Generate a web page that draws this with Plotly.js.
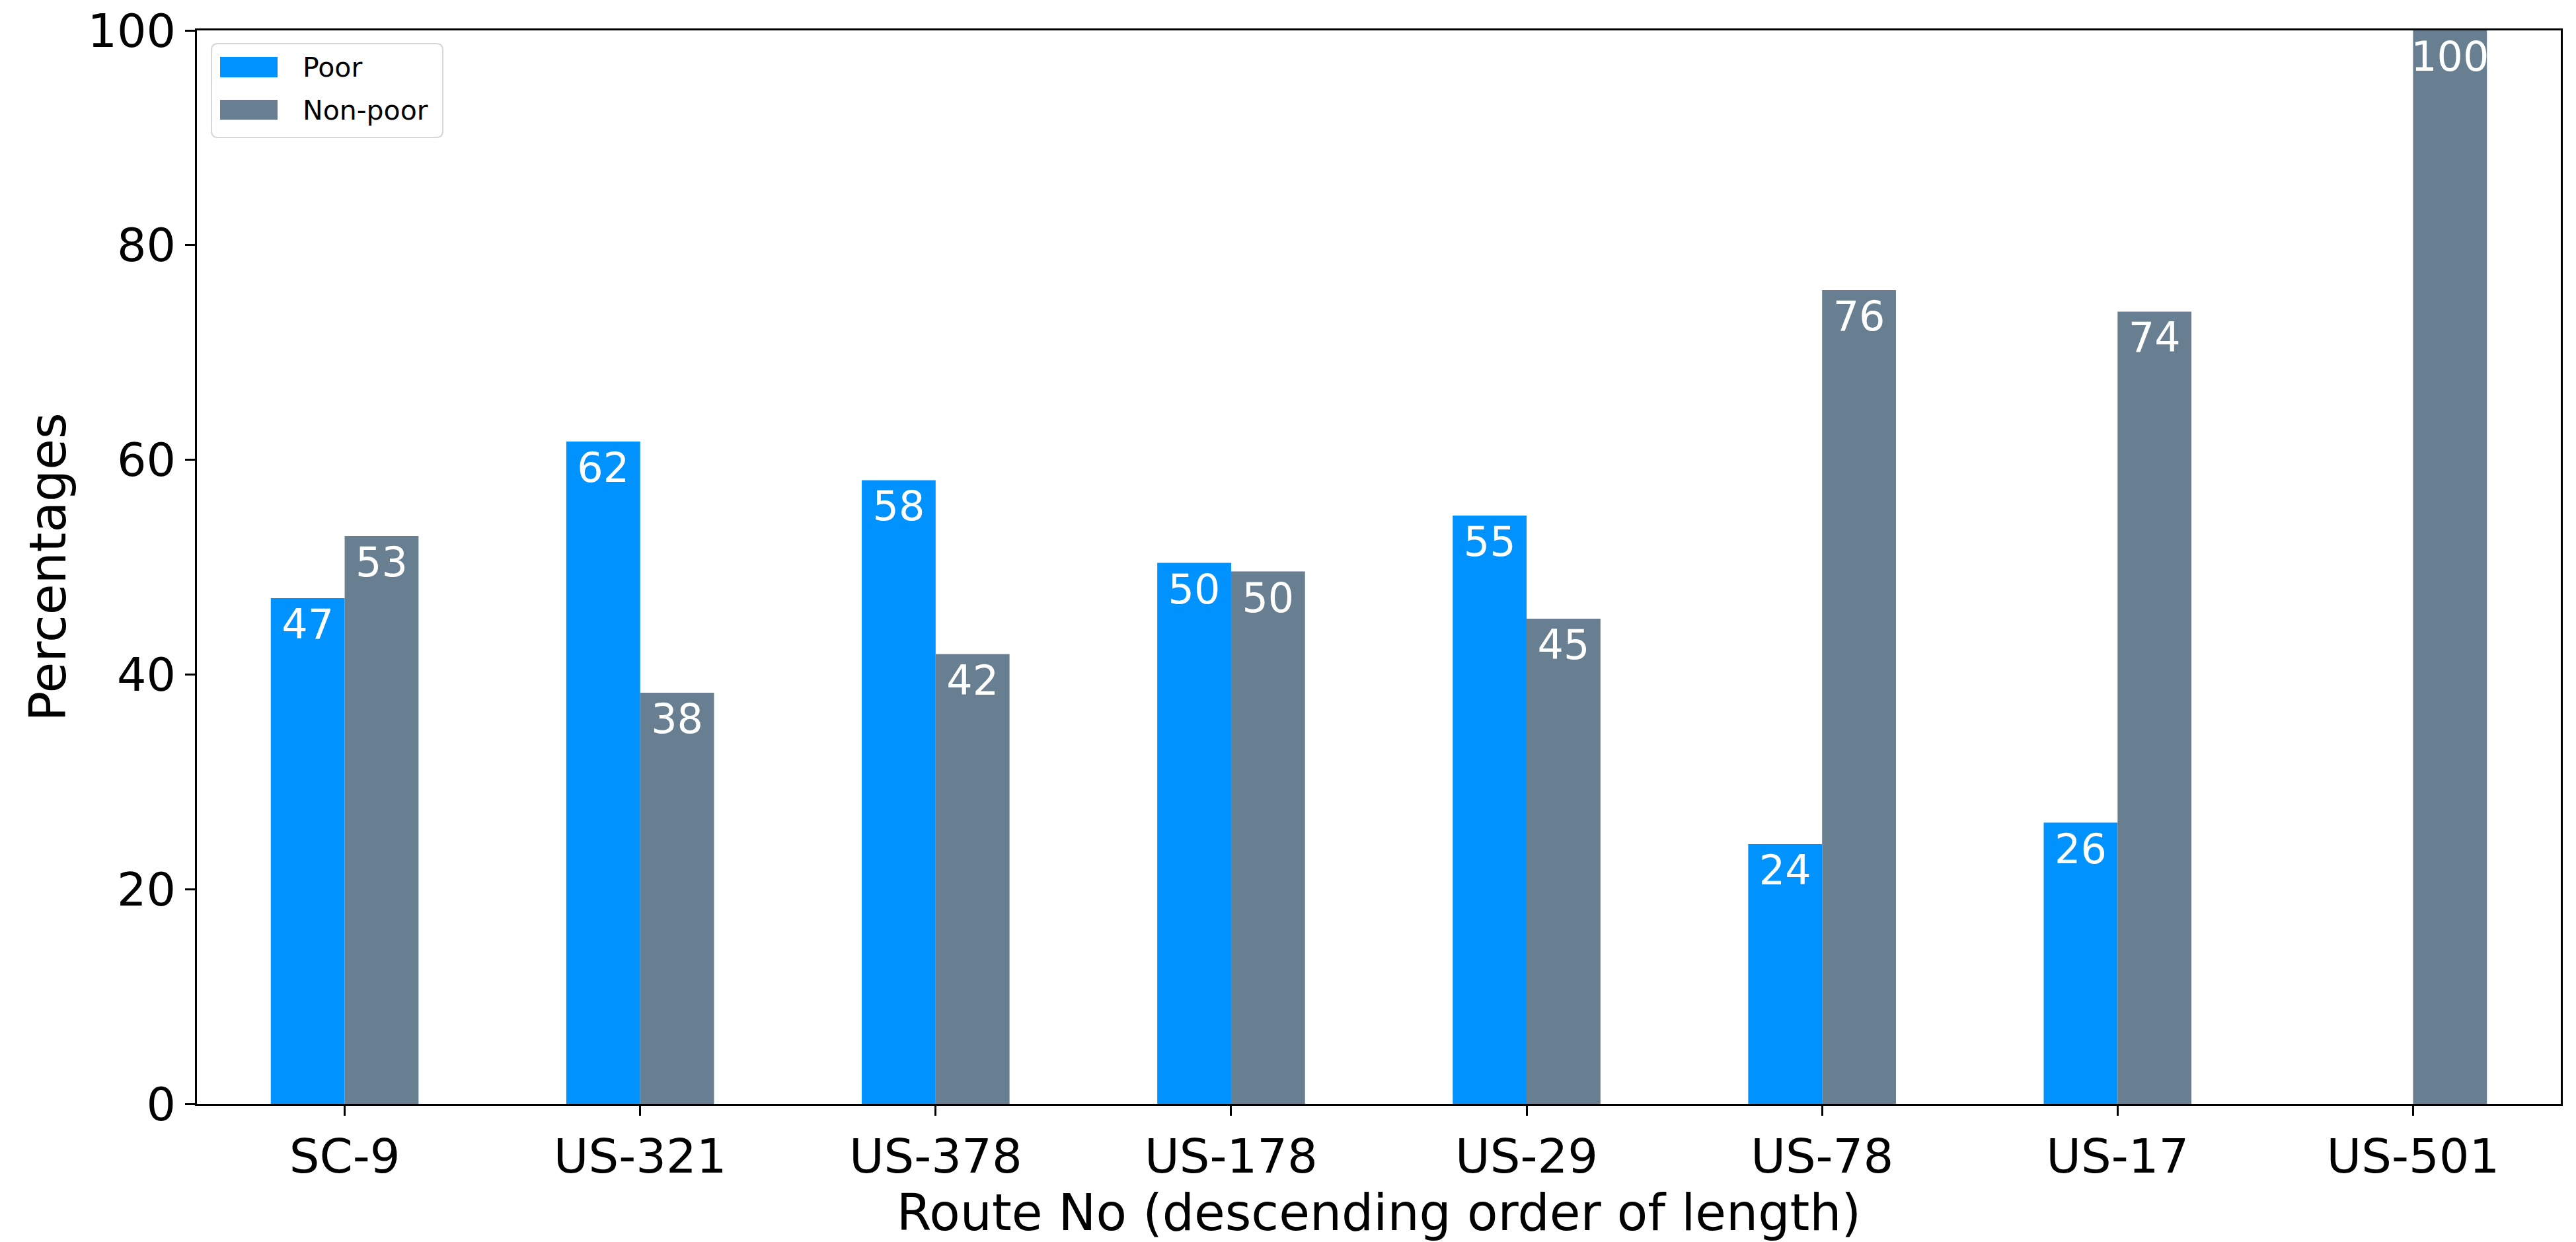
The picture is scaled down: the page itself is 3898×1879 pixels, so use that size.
<!DOCTYPE html>
<html>
<head>
<meta charset="utf-8">
<script src="https://cdn.plot.ly/plotly-3.0.1.min.js"></script>
<style>html,body{margin:0;padding:0;background:#fff;}#chart{width:3898px;height:1879px;}</style>
</head>
<body>
<div id="chart"></div>
<script>
const routes = ["SC-9", "US-321", "US-378", "US-178", "US-29", "US-78", "US-17", "US-501"];
const poorValues = [47.1, 61.7, 58.1, 50.4, 54.8, 24.2, 26.2, 0];
const nonPoorValues = [52.9, 38.3, 41.9, 49.6, 45.2, 75.8, 73.8, 100];
const poorLabels = ["47", "62", "58", "50", "55", "24", "26", ""];
const nonPoorLabels = ["53", "38", "42", "50", "45", "76", "74", "100"];
const seriesNames = ["Poor", "Non-poor"];
const seriesColors = ["#0092ff", "#687e91"];
const yTicks = [0, 20, 40, 60, 80, 100];

const FONT = "DejaVu Sans, sans-serif";
const labelFont = {family: FONT, size: 62, color: "#ffffff"};

const traces = [
  {
    type: "bar", name: seriesNames[0], x: routes, y: poorValues,
    text: poorLabels, textposition: "inside", insidetextanchor: "end",
    constraintext: "none", textfont: labelFont, textangle: 0,
    marker: {color: seriesColors[0], line: {width: 0}},
    hoverinfo: "x+y"
  },
  {
    type: "bar", name: seriesNames[1], x: routes, y: nonPoorValues,
    text: nonPoorLabels, textposition: "inside", insidetextanchor: "end",
    constraintext: "none", textfont: labelFont, textangle: 0,
    marker: {color: seriesColors[1], line: {width: 0}},
    hoverinfo: "x+y"
  }
];

// Plot area in pixels (for the matplotlib-style legend box)
const PL = 298, PR = 3875, PT = 46, PB = 1670;
const px = v => (v - PL) / (PR - PL);
const py = v => (PB - v) / (PB - PT);

function roundRectPath(x0, y0, x1, y1, r) {
  const X = px, Y = py;
  return "M" + X(x0 + r) + "," + Y(y0) +
    " L" + X(x1 - r) + "," + Y(y0) +
    " Q" + X(x1) + "," + Y(y0) + " " + X(x1) + "," + Y(y0 + r) +
    " L" + X(x1) + "," + Y(y1 - r) +
    " Q" + X(x1) + "," + Y(y1) + " " + X(x1 - r) + "," + Y(y1) +
    " L" + X(x0 + r) + "," + Y(y1) +
    " Q" + X(x0) + "," + Y(y1) + " " + X(x0) + "," + Y(y1 - r) +
    " L" + X(x0) + "," + Y(y0 + r) +
    " Q" + X(x0) + "," + Y(y0) + " " + X(x0 + r) + "," + Y(y0) + " Z";
}

const legendRows = [{top: 86, bottom: 117, mid: 102}, {top: 151, bottom: 181, mid: 167}];
const shapes = [
  {type: "path", xref: "paper", yref: "paper", path: roundRectPath(320, 66, 670, 208, 10),
   fillcolor: "rgba(255,255,255,0.85)", line: {color: "#d6d6d6", width: 2}}
];
const annotations = [];
seriesNames.forEach((name, i) => {
  const r = legendRows[i];
  shapes.push({type: "rect", xref: "paper", yref: "paper",
    x0: px(333), x1: px(420), y0: py(r.bottom), y1: py(r.top),
    fillcolor: seriesColors[i], line: {width: 0}});
  annotations.push({xref: "paper", yref: "paper", x: px(456), y: py(r.mid),
    xanchor: "left", yanchor: "middle", showarrow: false, text: name,
    font: {family: FONT, size: 41, color: "#000"}});
});

const layout = {
  width: 3898, height: 1879,
  paper_bgcolor: "#ffffff", plot_bgcolor: "#ffffff",
  margin: {l: PL, r: 3898 - PR, t: PT, b: 1879 - PB, pad: 0},
  barmode: "group", bargap: 0.5, bargroupgap: 0,
  font: {family: FONT, color: "#000000"},
  showlegend: false,
  shapes: shapes,
  annotations: annotations,
  xaxis: {
    type: "category", range: [-0.5, 7.5],
    showline: true, linecolor: "#000", linewidth: 3, mirror: true,
    ticks: "outside", ticklen: 15, tickwidth: 3, tickcolor: "#000",
    tickfont: {family: FONT, size: 72, color: "#000"},
    showgrid: false, zeroline: false,
    title: {text: "Route No (descending order of length)", font: {family: FONT, size: 76, color: "#000"}, standoff: 22}
  },
  yaxis: {
    range: [0, 100], tickvals: yTicks, ticktext: yTicks.map(String),
    ticklabeloverflow: "allow",
    showline: true, linecolor: "#000", linewidth: 3, mirror: true,
    ticks: "outside", ticklen: 15, tickwidth: 3, tickcolor: "#000",
    tickfont: {family: FONT, size: 70, color: "#000"},
    showgrid: false, zeroline: false,
    title: {text: "Percentages", font: {family: FONT, size: 76, color: "#000"}, standoff: 8}
  }
};

Plotly.newPlot("chart", traces, layout, {displayModeBar: false, staticPlot: true});
</script>
</body>
</html>
